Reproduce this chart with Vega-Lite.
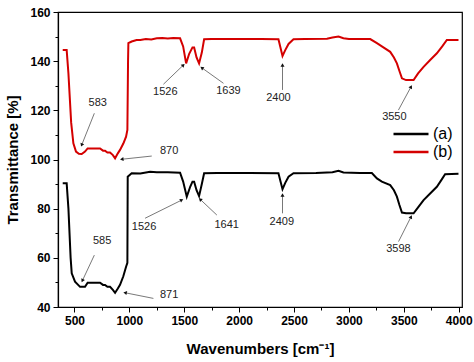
{
  "$schema": "https://vega.github.io/schema/vega-lite/v6.json",
  "width": 404,
  "height": 295,
  "autosize": {"type": "none"},
  "padding": {"left": 58, "top": 12, "right": 12, "bottom": 55},
  "background": "white",
  "config": {
    "view": {"stroke": "black", "strokeWidth": 1.2},
    "axis": {
      "domainColor": "black", "tickColor": "black", "labelColor": "black", "titleColor": "black",
      "labelFont": "Liberation Sans", "titleFont": "Liberation Sans",
      "labelFontWeight": "bold", "labelFontSize": 12, "titleFontSize": 15, "titleFontWeight": "bold",
      "grid": false, "tickSize": 5, "labelPadding": 3, "domainWidth": 1.2
    }
  },
  "resolve": {"axis": {"x": "independent", "y": "independent"}},
  "datasets": {
    "spectra": [
      {"w":393,"t":144.5,"s":"(b)"},{"w":429,"t":144.5,"s":"(b)"},{"w":445,"t":135,"s":"(b)"},{"w":470,"t":115,"s":"(b)"},{"w":490,"t":106.6,"s":"(b)"},{"w":514,"t":103.2,"s":"(b)"},{"w":540,"t":102.3,"s":"(b)"},{"w":566,"t":102.2,"s":"(b)"},{"w":596,"t":103.2,"s":"(b)"},{"w":620,"t":104.5,"s":"(b)"},{"w":642,"t":104.5,"s":"(b)"},{"w":700,"t":104.5,"s":"(b)"},{"w":733,"t":104.5,"s":"(b)"},{"w":760,"t":103.6,"s":"(b)"},{"w":778,"t":103.6,"s":"(b)"},{"w":800,"t":102.8,"s":"(b)"},{"w":824,"t":102.8,"s":"(b)"},{"w":850,"t":101.8,"s":"(b)"},{"w":870,"t":100.5,"s":"(b)"},{"w":895,"t":102.5,"s":"(b)"},{"w":915,"t":103.9,"s":"(b)"},{"w":945,"t":106.5,"s":"(b)"},{"w":970,"t":109.3,"s":"(b)"},{"w":982,"t":112,"s":"(b)"},{"w":988,"t":140,"s":"(b)"},{"w":991,"t":147.3,"s":"(b)"},{"w":1021,"t":148,"s":"(b)"},{"w":1066,"t":148.6,"s":"(b)"},{"w":1100,"t":148.6,"s":"(b)"},{"w":1150,"t":149,"s":"(b)"},{"w":1200,"t":148.8,"s":"(b)"},{"w":1250,"t":149.3,"s":"(b)"},{"w":1300,"t":149.4,"s":"(b)"},{"w":1350,"t":149.2,"s":"(b)"},{"w":1400,"t":149.4,"s":"(b)"},{"w":1462,"t":149.3,"s":"(b)"},{"w":1490,"t":146,"s":"(b)"},{"w":1517,"t":139.1,"s":"(b)"},{"w":1545,"t":143,"s":"(b)"},{"w":1575,"t":145.6,"s":"(b)"},{"w":1590,"t":145.6,"s":"(b)"},{"w":1612,"t":141.5,"s":"(b)"},{"w":1635,"t":139.1,"s":"(b)"},{"w":1660,"t":143.5,"s":"(b)"},{"w":1681,"t":148.9,"s":"(b)"},{"w":1750,"t":149,"s":"(b)"},{"w":2000,"t":149,"s":"(b)"},{"w":2200,"t":149,"s":"(b)"},{"w":2358,"t":148.9,"s":"(b)"},{"w":2395,"t":142.1,"s":"(b)"},{"w":2420,"t":144.5,"s":"(b)"},{"w":2450,"t":147,"s":"(b)"},{"w":2495,"t":148.9,"s":"(b)"},{"w":2600,"t":149,"s":"(b)"},{"w":2800,"t":149.1,"s":"(b)"},{"w":2850,"t":149.6,"s":"(b)"},{"w":2905,"t":150,"s":"(b)"},{"w":2950,"t":149.3,"s":"(b)"},{"w":3000,"t":149,"s":"(b)"},{"w":3100,"t":149,"s":"(b)"},{"w":3194,"t":149,"s":"(b)"},{"w":3255,"t":147.3,"s":"(b)"},{"w":3300,"t":146,"s":"(b)"},{"w":3376,"t":143.8,"s":"(b)"},{"w":3410,"t":141.5,"s":"(b)"},{"w":3437,"t":139.1,"s":"(b)"},{"w":3460,"t":136,"s":"(b)"},{"w":3483,"t":133,"s":"(b)"},{"w":3520,"t":132.3,"s":"(b)"},{"w":3589,"t":132.3,"s":"(b)"},{"w":3630,"t":135,"s":"(b)"},{"w":3680,"t":137.7,"s":"(b)"},{"w":3740,"t":140.5,"s":"(b)"},{"w":3801,"t":143.2,"s":"(b)"},{"w":3850,"t":146,"s":"(b)"},{"w":3892,"t":148.6,"s":"(b)"},{"w":3998,"t":148.6,"s":"(b)"},
      {"w":393,"t":90.3,"s":"(a)"},{"w":429,"t":90.3,"s":"(a)"},{"w":445,"t":80,"s":"(a)"},{"w":465,"t":60,"s":"(a)"},{"w":475,"t":53.7,"s":"(a)"},{"w":505,"t":50.3,"s":"(a)"},{"w":551,"t":48.2,"s":"(a)"},{"w":596,"t":48.2,"s":"(a)"},{"w":620,"t":49.9,"s":"(a)"},{"w":642,"t":49.9,"s":"(a)"},{"w":733,"t":49.9,"s":"(a)"},{"w":760,"t":49,"s":"(a)"},{"w":778,"t":49,"s":"(a)"},{"w":800,"t":48.2,"s":"(a)"},{"w":824,"t":48.2,"s":"(a)"},{"w":850,"t":47,"s":"(a)"},{"w":870,"t":45.8,"s":"(a)"},{"w":895,"t":47.5,"s":"(a)"},{"w":915,"t":49,"s":"(a)"},{"w":945,"t":52.5,"s":"(a)"},{"w":970,"t":56.4,"s":"(a)"},{"w":982,"t":58,"s":"(a)"},{"w":985,"t":93,"s":"(a)"},{"w":1021,"t":94.4,"s":"(a)"},{"w":1100,"t":94.3,"s":"(a)"},{"w":1189,"t":95,"s":"(a)"},{"w":1250,"t":94.8,"s":"(a)"},{"w":1350,"t":94.8,"s":"(a)"},{"w":1462,"t":94.6,"s":"(a)"},{"w":1490,"t":91,"s":"(a)"},{"w":1523,"t":84.9,"s":"(a)"},{"w":1555,"t":89,"s":"(a)"},{"w":1575,"t":91,"s":"(a)"},{"w":1590,"t":91,"s":"(a)"},{"w":1612,"t":87.5,"s":"(a)"},{"w":1635,"t":85.1,"s":"(a)"},{"w":1660,"t":90,"s":"(a)"},{"w":1681,"t":94.4,"s":"(a)"},{"w":1800,"t":94.5,"s":"(a)"},{"w":2100,"t":94.5,"s":"(a)"},{"w":2358,"t":94.4,"s":"(a)"},{"w":2395,"t":87.9,"s":"(a)"},{"w":2420,"t":90.5,"s":"(a)"},{"w":2450,"t":93,"s":"(a)"},{"w":2495,"t":94.4,"s":"(a)"},{"w":2700,"t":94.5,"s":"(a)"},{"w":2850,"t":94.8,"s":"(a)"},{"w":2905,"t":95.4,"s":"(a)"},{"w":2950,"t":94.7,"s":"(a)"},{"w":3100,"t":94.5,"s":"(a)"},{"w":3209,"t":94.5,"s":"(a)"},{"w":3255,"t":92.3,"s":"(a)"},{"w":3300,"t":91,"s":"(a)"},{"w":3376,"t":89.6,"s":"(a)"},{"w":3410,"t":87.5,"s":"(a)"},{"w":3437,"t":84.9,"s":"(a)"},{"w":3460,"t":81.5,"s":"(a)"},{"w":3483,"t":78.4,"s":"(a)"},{"w":3520,"t":78.1,"s":"(a)"},{"w":3589,"t":78.1,"s":"(a)"},{"w":3630,"t":80.5,"s":"(a)"},{"w":3680,"t":83.5,"s":"(a)"},{"w":3740,"t":86.2,"s":"(a)"},{"w":3801,"t":88.9,"s":"(a)"},{"w":3840,"t":91.5,"s":"(a)"},{"w":3876,"t":94,"s":"(a)"},{"w":3998,"t":94.2,"s":"(a)"}
    ],
    "notes": [
      {"label":"583","x":712,"y":122.9,"sx":681,"sy":118.8,"tx":566,"ty":105.9},
      {"label":"870","x":1362,"y":103.6,"sx":1204,"sy":101.4,"tx":931,"ty":100.1},
      {"label":"1526","x":1327,"y":127.6,"sx":1310,"sy":130.6,"tx":1492,"ty":138.4},
      {"label":"1639","x":1902,"y":128,"sx":1857,"sy":131,"tx":1660,"ty":137.3},
      {"label":"2400","x":2358,"y":125.1,"sx":2395,"sy":128.3,"tx":2395,"ty":138.4},
      {"label":"3550","x":3414,"y":117.4,"sx":3451,"sy":120.1,"tx":3566,"ty":129.6},
      {"label":"585","x":752,"y":67,"sx":681,"sy":61.1,"tx":572,"ty":50.7},
      {"label":"871","x":1362,"y":45,"sx":1219,"sy":43.5,"tx":961,"ty":45.8},
      {"label":"1526","x":1134,"y":72.4,"sx":1143,"sy":76.1,"tx":1477,"ty":83.5},
      {"label":"1641","x":1887,"y":73.3,"sx":1797,"sy":77.4,"tx":1645,"ty":83.8},
      {"label":"2409","x":2389,"y":74.7,"sx":2395,"sy":78.1,"tx":2395,"ty":85.6},
      {"label":"3598","x":3451,"y":63.4,"sx":3452,"sy":66.6,"tx":3566,"ty":76.7}
    ],
    "minor": [{"v":750,"u":50},{"v":1250,"u":70},{"v":1750,"u":90},{"v":2250,"u":110},{"v":2750,"u":130},{"v":3250,"u":150},{"v":3750,"u":150}]
  },
  "layer": [
    {
      "data": {"name": "spectra"},
      "mark": {"type": "line", "strokeWidth": 2, "interpolate": "linear"},
      "encoding": {
        "x": {"field": "w", "type": "quantitative",
          "scale": {"domain": [350, 4030], "nice": false, "zero": false},
          "axis": {"orient": "bottom", "values": [500,1000,1500,2000,2500,3000,3500,4000], "format": "d", "title": "Wavenumbers [cm⁻¹]", "titleX": 202, "titleY": 41, "titleBaseline": "middle"}},
        "y": {"field": "t", "type": "quantitative",
          "scale": {"domain": [40, 160], "nice": false, "zero": false},
          "axis": {"orient": "left", "values": [40,60,80,100,120,140,160], "format": "d", "title": "Transmittance [%]", "titleX": -46, "titleY": 147.5, "titleAngle": -90, "titleBaseline": "middle", "titleAlign": "center"}},
        "color": {"field": "s", "type": "nominal",
          "scale": {"domain": ["(a)", "(b)"], "range": ["#000000", "#d40000"]},
          "legend": {"title": null, "orient": "none", "legendX": 343, "legendY": 112,
            "symbolType": "M-2,0H2", "symbolSize": 306, "symbolStrokeWidth": 2.5,
            "labelFont": "Liberation Sans", "labelFontSize": 16, "labelColor": "black", "labelOffset": 12, "rowPadding": 0}},
        "detail": {"field": "s"}
      }
    },
    {
      "data": {"name": "minor"},
      "mark": {"type": "point", "opacity": 0},
      "encoding": {
        "x": {"field": "v", "type": "quantitative",
          "axis": {"orient": "bottom", "values": [750,1250,1750,2250,2750,3250,3750], "labels": false, "domain": false, "tickSize": 3, "title": null}},
        "y": {"field": "u", "type": "quantitative",
          "axis": {"orient": "left", "values": [50,70,90,110,130,150], "labels": false, "domain": false, "tickSize": 3, "title": null}}
      }
    },
    {
      "data": {"name": "notes"},
      "mark": {"type": "rule", "stroke": "#555555", "strokeWidth": 0.8},
      "encoding": {
        "x": {"field": "sx", "type": "quantitative", "axis": null},
        "y": {"field": "sy", "type": "quantitative", "axis": null},
        "x2": {"field": "tx"},
        "y2": {"field": "ty"}
      }
    },
    {
      "data": {"name": "notes"},
      "transform": [{"calculate": "atan2((datum.tx - datum.sx) * 404 / 3680, (datum.ty - datum.sy) * 295 / 120) * 180 / PI", "as": "ang"}],
      "mark": {"type": "point", "shape": "triangle-up", "filled": true, "color": "#111111", "size": 16, "opacity": 1},
      "encoding": {
        "x": {"field": "tx", "type": "quantitative", "axis": null},
        "y": {"field": "ty", "type": "quantitative", "axis": null},
        "angle": {"field": "ang", "type": "quantitative", "scale": null}
      }
    },
    {
      "data": {"name": "notes"},
      "mark": {"type": "text", "font": "Liberation Sans", "fontSize": 11, "color": "#222222", "baseline": "middle", "align": "center"},
      "encoding": {
        "x": {"field": "x", "type": "quantitative", "axis": null},
        "y": {"field": "y", "type": "quantitative", "axis": null},
        "text": {"field": "label"}
      }
    }
  ]
}
